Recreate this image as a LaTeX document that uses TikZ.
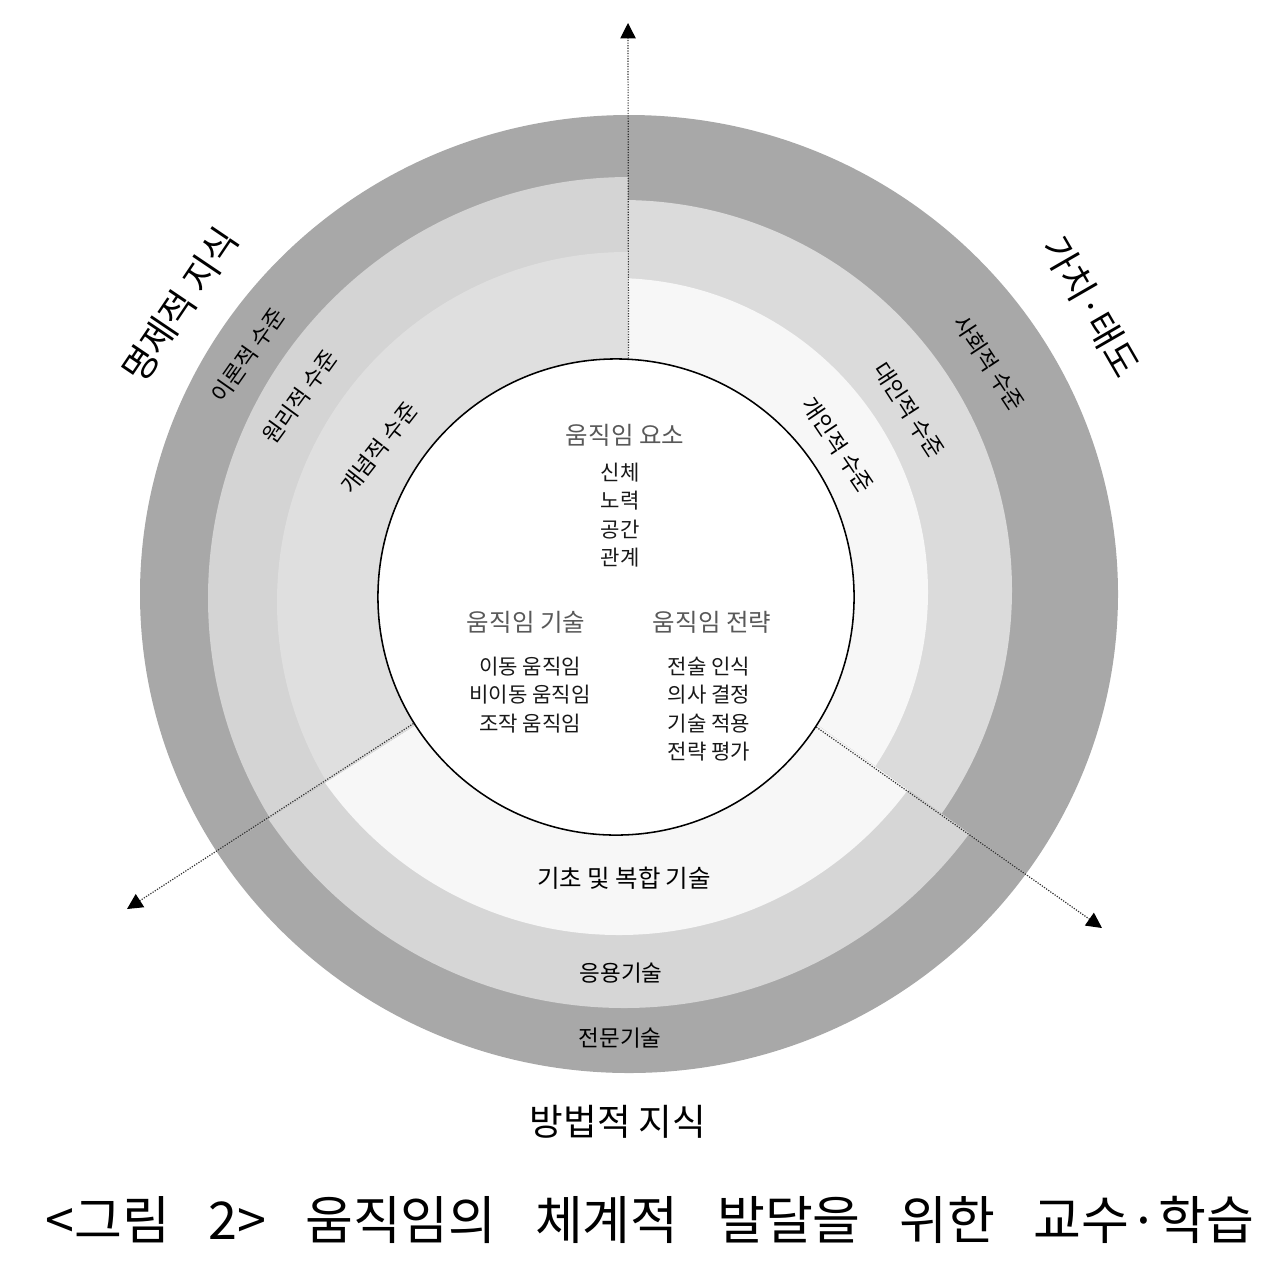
\documentclass[tikz,border=0pt]{standalone}
\usepackage{fontspec}
\setmainfont{Noto Sans CJK KR}
\newfontfamily\capfont{Noto Sans CJK KR}[WordSpace=3.3]
\usepackage{xcolor}
\usepackage{tikz}
\usetikzlibrary{arrows.meta, calc}
\definecolor{ringdark}{gray}{0.66}
\definecolor{leftmid}{gray}{0.83}
\definecolor{leftin}{gray}{0.875}
\definecolor{rightmid}{gray}{0.86}
\definecolor{rightin}{gray}{0.97}
\definecolor{botmid}{gray}{0.84}
\definecolor{botin}{gray}{0.97}
\definecolor{headgray}{gray}{0.35}
\tikzstyle{core} = [circle, draw=black, line width=1.1pt, fill=white, minimum size=11.9cm, inner sep=0pt]
\tikzstyle{heading} = [text=headgray, font=\fontsize{17.4}{20}\selectfont]
\tikzstyle{entry} = [align=center, text=black!90, font=\fontsize{15}{20.1}\selectfont]
\tikzstyle{tier} = [font=\fontsize{16}{19}\selectfont]
\tikzstyle{skill} = [font=\fontsize{16}{19}\selectfont]
\tikzstyle{knowledge} = [font=\fontsize{26}{30}\selectfont]
\tikzstyle{figcap} = [font=\capfont\fontsize{37}{42}\selectfont]
\tikzstyle{axisline} = [densely dotted, line width=0.85pt, draw=black!80, -{Triangle[length=11pt, width=11pt, color=black]}]

\begin{document}
\begin{tikzpicture}[x=0.025cm, y=-0.025cm]
\useasboundingbox (0,0) rectangle (1280,1265);
\coordinate (O) at (628,590);
\coordinate (topTip) at (628,23);
\coordinate (leftTip) at (127,909);
\coordinate (rightTip) at (1102,928);

% Rings: propositional knowledge (left)
\begin{scope}
\clip (O) -- (628,-10) -- (-1400,-10) -- ($(O)!4!(leftTip)$) -- cycle;
\fill [ringdark] (629,594) ellipse [x radius=489, y radius=479];
\fill [leftmid] (629,598) circle [radius=421];
\fill [leftin] (627,602) circle [radius=350];
\end{scope}
% Rings: values and attitudes (right)
\begin{scope}
\clip (O) -- (628,-10) -- (2700,-10) -- ($(O)!4!(rightTip)$) -- cycle;
\fill [ringdark] (629,594) ellipse [x radius=489, y radius=479];
\fill [rightmid] (622,590) circle [radius=390];
\fill [rightin] (614,592) circle [radius=314];
\end{scope}
% Rings: procedural knowledge (bottom)
\begin{scope}
\clip (O) -- ($(O)!4!(leftTip)$) -- ($(O)!4!(rightTip)$) -- cycle;
\fill [ringdark] (629,594) ellipse [x radius=489, y radius=479];
\fill [botmid] (624,579) circle [radius=429];
\fill [botin] (619,575) circle [radius=360];
\end{scope}

% Nodes
\node (core) [core] at (616,597) {};
\node (elemHead) [heading] at (625,435) {움직임 요소};
\node (elemList) [entry] at (620,515) {신체\\노력\\공간\\관계};
\node (skillHead) [heading] at (526,622) {움직임 기술};
\node (skillList) [entry] at (530,695) {이동 움직임\\비이동 움직임\\조작 움직임};
\node (stratHead) [heading] at (712,622) {움직임 전략};
\node (stratList) [entry] at (709,709) {전술 인식\\의사 결정\\기술 적용\\전략 평가};

\node (theory) [tier, rotate=55] at (248,355) {이론적 수준};
\node (principle) [tier, rotate=54] at (300,397) {원리적 수준};
\node (concept) [tier, rotate=52] at (379,448) {개념적 수준};
\node (social) [tier, rotate=-56.5] at (989,363) {사회적 수준};
\node (interpers) [tier, rotate=-57] at (909,410) {대인적 수준};
\node (personal) [tier, rotate=-56] at (838,445) {개인적 수준};
\node (basic) [skill, font=\fontsize{17.4}{20}\selectfont] at (624,878) {기초 및 복합 기술};
\node (applied) [skill] at (621,973) {응용기술};
\node (expert) [skill] at (620,1038) {전문기술};

\node (propos) [knowledge, rotate=56] at (180,305) {명제적 지식};
\node (attitude) [knowledge, rotate=-60] at (1091,307) {가치·태도};
\node (method) [knowledge] at (618,1122) {방법적 지식};
\node (figcaption) [figcap] at (650,1220) {<그림 2> 움직임의 체계적 발달을 위한 교수·학습};

% Arrows
\draw [axisline] (core.87) -- (topTip);
\draw [axisline] (core.212) -- (leftTip);
\draw [axisline] (core.327) -- (rightTip);
\end{tikzpicture}
\end{document}
